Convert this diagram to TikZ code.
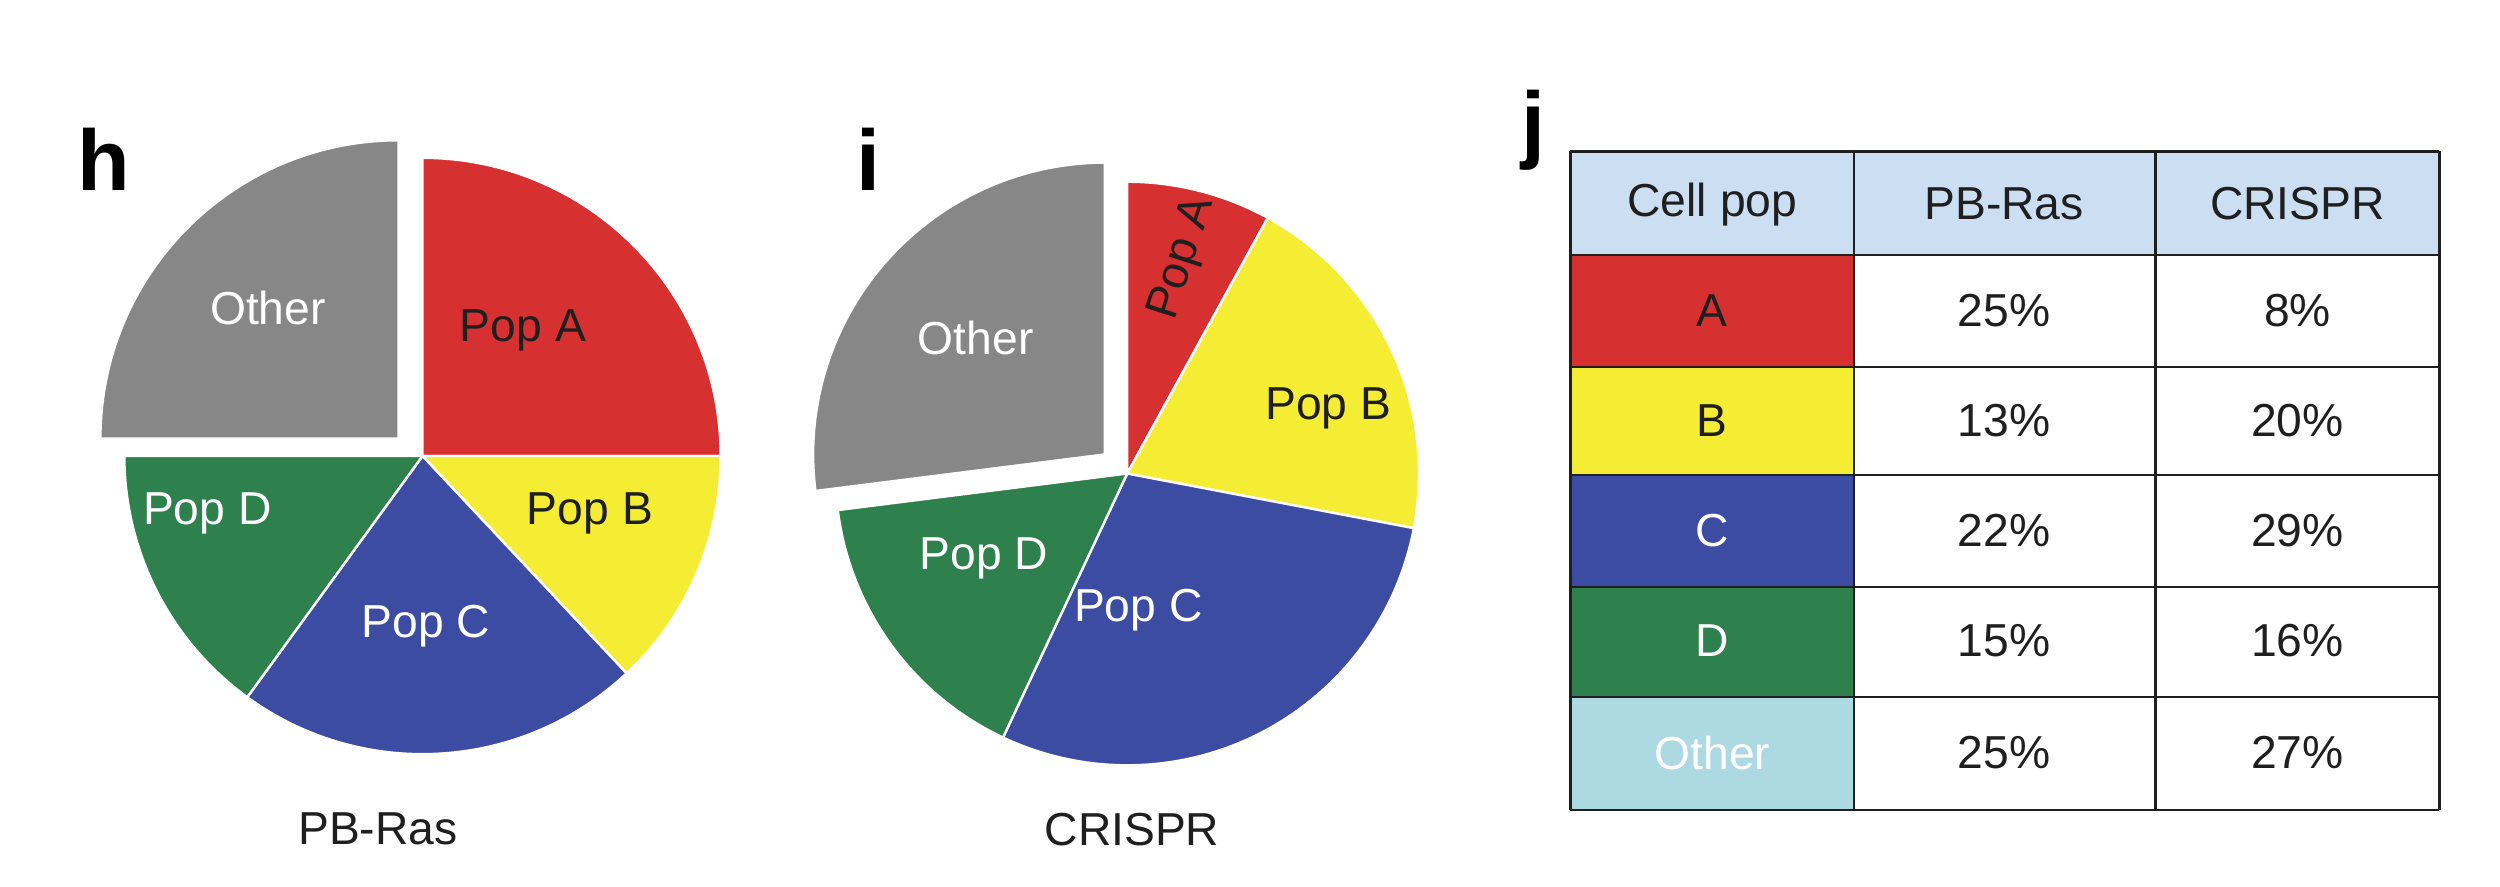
\documentclass[tikz,border=0pt]{standalone}
\usepackage{fontspec}
\setmainfont{Liberation Sans}
\definecolor{cA}{rgb}{0.84,0.19,0.19}
\definecolor{cB}{rgb}{0.96,0.93,0.20}
\definecolor{cC}{rgb}{0.24,0.30,0.64}
\definecolor{cD}{rgb}{0.18,0.50,0.30}
\definecolor{cO}{rgb}{0.53,0.53,0.53}
\definecolor{cH}{rgb}{0.80,0.87,0.95}
\definecolor{cOt}{rgb}{0.68,0.85,0.89}
\definecolor{txt}{rgb}{0.12,0.12,0.12}
\begin{document}
\begin{tikzpicture}[x=1pt,y=-1pt,
  lbl/.style={font=\fontsize{29}{31}\selectfont,text=txt},
  wlbl/.style={font=\fontsize{29}{31}\selectfont,text=white},
  panel/.style={font=\fontsize{54}{56}\selectfont\bfseries},
  cell/.style={draw=txt,line width=1.5},
  wedge/.style={draw=white,line width=1.5}]
\useasboundingbox[fill=white] (0,0) rectangle (1568,556);
% pie h
\def\R{187}
\fill[cA,wedge] (265,286) -- ++(0:\R) arc[start angle=0,end angle=-90,radius=\R] -- cycle;
\fill[cB,wedge] (265,286) -- ++(0:\R) arc[start angle=0,end angle=46.8,radius=\R] -- cycle;
\fill[cC,wedge] (265,286) -- ++(46.8:\R) arc[start angle=46.8,end angle=126,radius=\R] -- cycle;
\fill[cD,wedge] (265,286) -- ++(126:\R) arc[start angle=126,end angle=180,radius=\R] -- cycle;
\fill[cO,wedge] (250,275) -- ++(180:\R) arc[start angle=180,end angle=270,radius=\R] -- cycle;
\node[wlbl] (ho) at (168,193) {Other};
\node[lbl] (ha) at (328,207) {Pop A};
\node[lbl] (hb) at (370,322) {Pop B};
\node[wlbl] (hc) at (267,393) {Pop C};
\node[wlbl] (hd) at (130,322) {Pop D};
\node[panel] (h) at (65,100) {h};
\node[lbl] (hl) at (237,520) {PB-Ras};
% pie i
\def\S{183}
\fill[cA,wedge] (707,297) -- ++(-90:\S) arc[start angle=-90,end angle=-61.2,radius=\S] -- cycle;
\fill[cB,wedge] (707,297) -- ++(-61.2:\S) arc[start angle=-61.2,end angle=10.8,radius=\S] -- cycle;
\fill[cC,wedge] (707,297) -- ++(10.8:\S) arc[start angle=10.8,end angle=115.2,radius=\S] -- cycle;
\fill[cD,wedge] (707,297) -- ++(115.2:\S) arc[start angle=115.2,end angle=172.8,radius=\S] -- cycle;
\fill[cO,wedge] (693,285) -- ++(172.8:\S) arc[start angle=172.8,end angle=270,radius=\S] -- cycle;
\node[wlbl] (io) at (612,212) {Other};
\node[lbl,rotate=72,inner sep=0pt] (ia) at (742,162) {Pop A};
\node[lbl] (ib) at (833,256) {Pop B};
\node[wlbl] (ic) at (714,383) {Pop C};
\node[wlbl] (id) at (617,350) {Pop D};
\node[panel] (i) at (545,100) {i};
\node[lbl] (il) at (710,520) {CRISPR};
% table j
\node[panel] (j) at (962,82) {j};
\def\xa{985}\def\xb{1163}\def\xc{1352}\def\xd{1530}
\fill[cH] (\xa,95) rectangle (\xd,160);
\fill[cA] (\xa,160) rectangle (\xb,230);
\fill[cB] (\xa,230) rectangle (\xb,298);
\fill[cC] (\xa,298) rectangle (\xb,368);
\fill[cD] (\xa,368) rectangle (\xb,437);
\fill[cOt] (\xa,437) rectangle (\xb,508);
\foreach \y in {95,160,230,298,368,437,508} \draw[cell] (\xa,\y) -- (\xd,\y);
\foreach \x in {985,1163,1352,1530} \draw[cell] (\x,95) -- (\x,508);
\node[lbl] (t00) at (1074,128) {Cell pop};
\node[lbl] (t01) at (1257,128) {PB-Ras};
\node[lbl] (t02) at (1441,128) {CRISPR};
\node[lbl] (t10) at (1074,195) {A};
\node[lbl] (t11) at (1257,195) {25\%};
\node[lbl] (t12) at (1441,195) {8\%};
\node[lbl] (t20) at (1074,264) {B};
\node[lbl] (t21) at (1257,264) {13\%};
\node[lbl] (t22) at (1441,264) {20\%};
\node[wlbl] (t30) at (1074,333) {C};
\node[lbl] (t31) at (1257,333) {22\%};
\node[lbl] (t32) at (1441,333) {29\%};
\node[wlbl] (t40) at (1074,402) {D};
\node[lbl] (t41) at (1257,402) {15\%};
\node[lbl] (t42) at (1441,402) {16\%};
\node[wlbl] (t50) at (1074,472) {Other};
\node[lbl] (t51) at (1257,472) {25\%};
\node[lbl] (t52) at (1441,472) {27\%};
\end{tikzpicture}
\end{document}
